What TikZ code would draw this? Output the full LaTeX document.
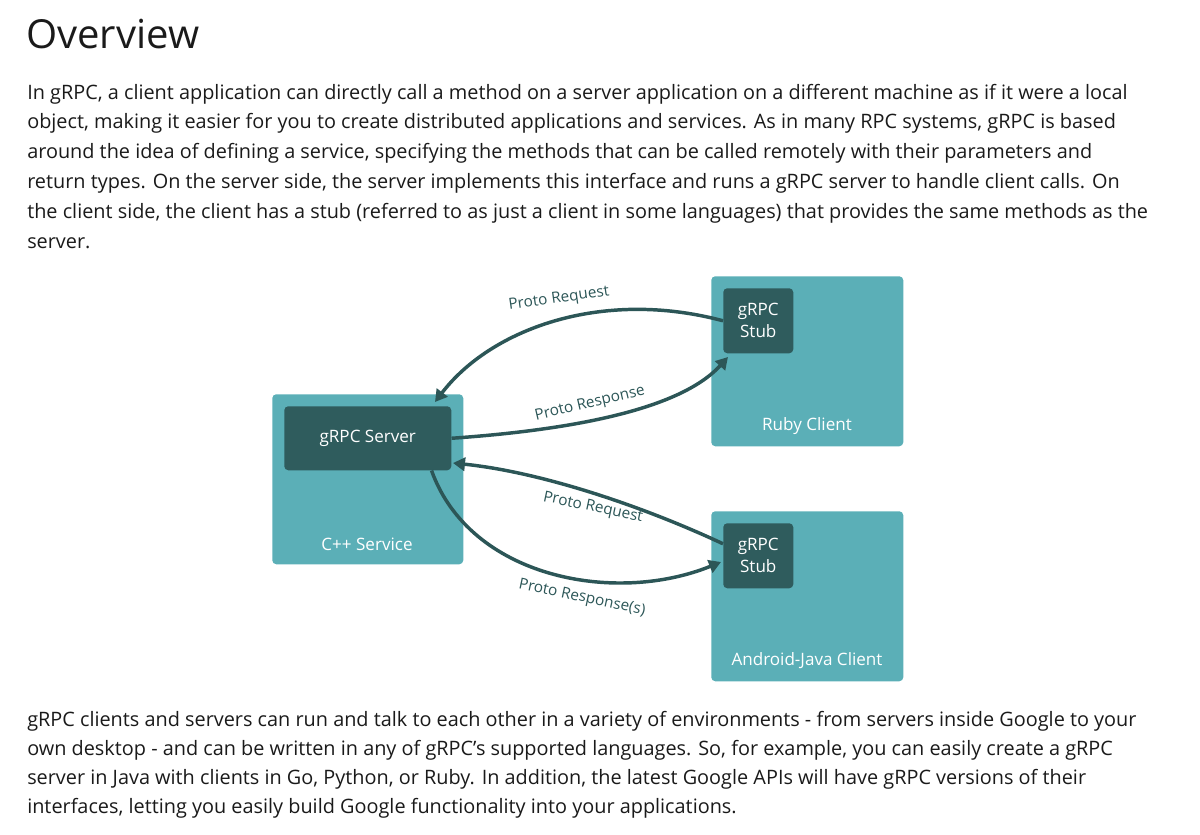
\documentclass[tikz,border=0pt]{standalone}
\usepackage{fontspec}
\setmainfont{Open Sans}
\usetikzlibrary{arrows.meta}
\definecolor{outer}{HTML}{5BAFB7}
\definecolor{inner}{HTML}{2F5C5D}
\definecolor{arr}{HTML}{2C5657}
\definecolor{txt}{HTML}{1A1A1A}
\begin{document}
\begin{tikzpicture}[x=0.75pt,y=-0.75pt,
  para/.style={anchor=base west,inner sep=0,font=\fontsize{14.9pt}{17pt}\selectfont,text=txt},
  box/.style={fill=outer,rounded corners=3pt,anchor=north west,inner sep=0},
  stub/.style={fill=inner,rounded corners=3pt,anchor=north west,inner sep=0,text=white,align=center,font=\fontsize{12.8pt}{16.5pt}\selectfont},
  blab/.style={text=white,font=\fontsize{12.8pt}{14pt}\selectfont},
  con/.style={draw=arr,line width=2.6pt,-{Triangle[length=9pt,width=10pt]}},
  clab/.style={text=arr,font=\fontsize{11.5pt}{13pt}\selectfont,inner sep=0}]
\useasboundingbox (0,0) rectangle (1200,835);
\node[anchor=base west,inner sep=0,font=\fontsize{30pt}{36pt}\selectfont,text=txt] (title) at (26,48) {Overview};
\node[para] (p1) at (27,99) {In gRPC, a client application can directly call a method on a server application on a different machine as if it were a local};
\node[para] (p2) at (27,128) {object, making it easier for you to create distributed applications and services. As in many RPC systems, gRPC is based};
\node[para] (p3) at (27,158) {around the idea of defining a service, specifying the methods that can be called remotely with their parameters and};
\node[para] (p4) at (27,188) {return types. On the server side, the server implements this interface and runs a gRPC server to handle client calls. On};
\node[para] (p5) at (27,218) {the client side, the client has a stub (referred to as just a client in some languages) that provides the same methods as the};
\node[para] (p6) at (27,248) {server.};
\node[para] (q1) at (27,726) {gRPC clients and servers can run and talk to each other in a variety of environments - from servers inside Google to your};
\node[para] (q2) at (27,755) {own desktop - and can be written in any of gRPC’s supported languages. So, for example, you can easily create a gRPC};
\node[para] (q3) at (27,784) {server in Java with clients in Go, Python, or Ruby. In addition, the latest Google APIs will have gRPC versions of their};
\node[para] (q4) at (27,813) {interfaces, letting you easily build Google functionality into your applications.};

\node[box,minimum width=191*0.75pt,minimum height=170*0.75pt] (cpp) at (272,394) {};
\node[blab] (cppl) at (367,544) {C++ Service};
\node[stub,minimum width=167*0.75pt,minimum height=64*0.75pt] (srv) at (284,406) {gRPC Server};
\node[box,minimum width=192*0.75pt,minimum height=170*0.75pt] (ruby) at (711,276) {};
\node[blab] (rubyl) at (807,426) {Ruby Client};
\node[stub,minimum width=70*0.75pt,minimum height=65*0.75pt] (rs) at (723,288) {gRPC\\Stub};
\node[box,minimum width=192*0.75pt,minimum height=170*0.75pt] (andr) at (711,511) {};
\node[blab] (andrl) at (807,661) {Android-Java Client};
\node[stub,minimum width=70*0.75pt,minimum height=65*0.75pt] (as) at (723,523) {gRPC\\Stub};

\draw[con] (rs.west) .. controls (600,288) and (490,330) .. (435,402);
\draw[con] (srv.east) .. controls (570,430) and (680,410) .. (728,357);
\draw[con] ([yshift=9pt]as.west) .. controls (640,505) and (540,472) .. (453,463);
\draw[con] (srv.south east)++(-20,0) .. controls (470,578) and (615,605) .. (721,562);
\node[clab,rotate=8] (l1) at (559,299) {Proto Request};
\node[clab,rotate=13] (l2) at (590,404) {Proto Response};
\node[clab,rotate=-12] (l3) at (593,508) {Proto Request};
\node[clab,rotate=-12] (l4) at (582,598) {Proto Response(s)};
\end{tikzpicture}
\end{document}
